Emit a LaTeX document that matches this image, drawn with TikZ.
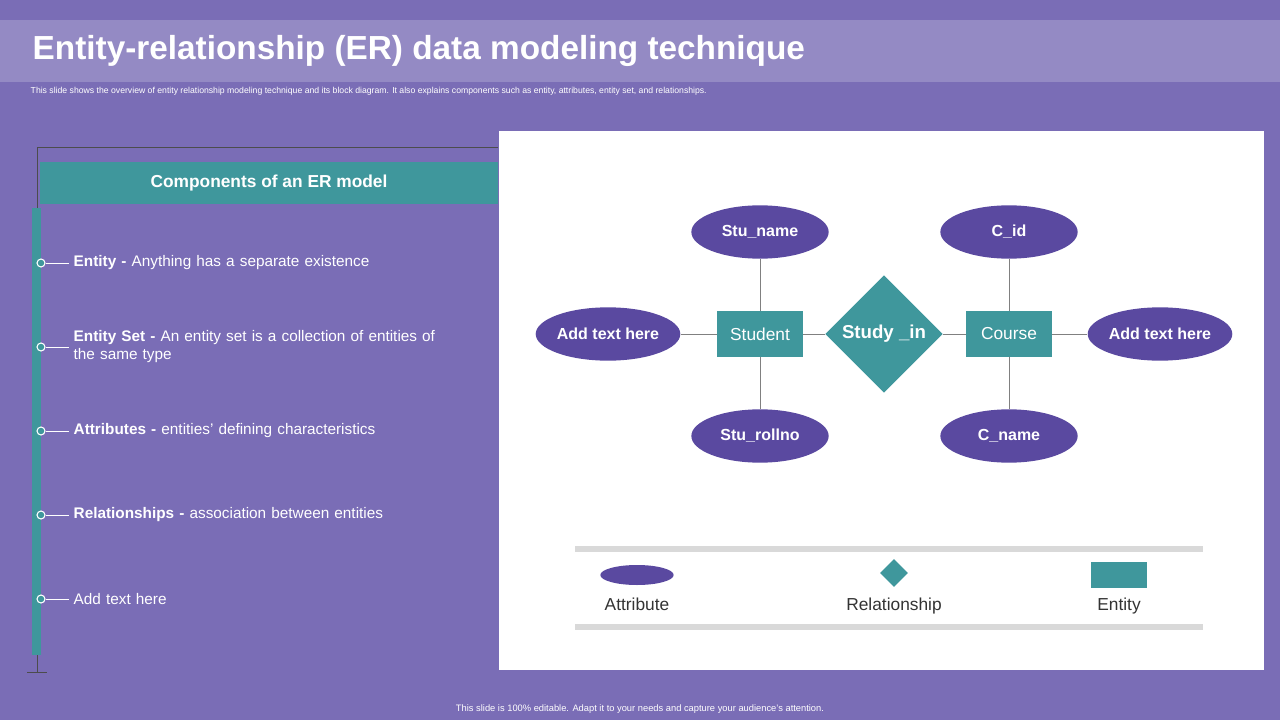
\documentclass[tikz,border=0pt]{standalone}
\usepackage{fontspec}
\setmainfont{Liberation Sans}
\usetikzlibrary{shapes.geometric}
\definecolor{bgpurple}{HTML}{7A6DB6}
\definecolor{teal}{HTML}{3F979C}
\definecolor{attr}{HTML}{5A49A0}
\definecolor{gline}{HTML}{D9D9D9}
\tikzset{
  attrib/.style={ellipse, fill=attr, minimum width=103pt, minimum height=40pt, inner sep=0pt, text=white, font=\bfseries\fontsize{12}{14}\selectfont},
  entity/.style={rectangle, fill=teal, minimum width=64pt, minimum height=34pt, inner sep=0pt, text=white, font=\fontsize{13}{15}\selectfont},
  relship/.style={diamond, fill=teal, minimum width=88pt, minimum height=88pt, inner sep=0pt, text=white, font=\bfseries\fontsize{14}{16}\selectfont},
  bullet/.style={circle, draw=white, fill=teal, line width=0.8pt, minimum size=6pt, inner sep=0pt},
  item/.style={anchor=west, text=white, font=\fontsize{11.5}{13.5}\selectfont, align=left, text width=290pt},
  legend/.style={anchor=base, text=black!80, font=\fontsize{13}{15}\selectfont}
}
\begin{document}
\begin{tikzpicture}[x=0.75pt, y=-0.75pt]
  \useasboundingbox (0,0) rectangle (1280,720);
  \fill[bgpurple] (0,0) rectangle (1280,720);
  \fill[white, opacity=0.2] (0,20) rectangle (1280,82);
  \node[anchor=west, text=white, font=\bfseries\fontsize{25}{29}\selectfont] (title) at (28,51) {Entity-relationship (ER) data modeling technique};
  \node[anchor=west, text=white, font=\fontsize{6.5}{8}\selectfont] (sub) at (26,91) {This slide shows the overview of entity relationship modeling technique and its block diagram. It also explains components such as  entity, attributes, entity set, and relationships.};

  % left panel
  \draw[black!70] (498,147) -- (37,147) -- (37,672);
  \draw[black!70] (27,672) -- (47,672);
  \fill[teal] (40,162) rectangle (498,204);
  \node[text=white, font=\bfseries\fontsize{13}{15}\selectfont] (comp) at (269,183) {Components of an ER model};
  \fill[teal] (32,208) rectangle (41,655);
  \foreach \y/\txt in {263/{\textbf{Entity -} Anything has a separate existence},
                       347/{\textbf{Entity Set -} An entity set is a collection of entities of the same type},
                       431/{\textbf{Attributes -} entities' defining characteristics},
                       515/{\textbf{Relationships -} association between entities},
                       599/{Add text here}} {
    \node[bullet] (b\y) at (41,\y) {};
    \node[item] (t\y) at (69,\y) {\txt};
    \draw[white] (b\y) -- (t\y.west);
  }

  % ER diagram
  \fill[white] (499,131) rectangle (1264,670);
  \node[relship] (study) at (884,334) {\raisebox{-2pt}{Study \_in}};
  \node[entity] (student) at (760,334) {Student};
  \node[entity] (course) at (1009,334) {Course};
  \node[attrib] (stuname) at (760,232) {Stu\_name};
  \node[attrib] (sturoll) at (760,436) {Stu\_rollno};
  \node[attrib] (addl) at (608,334) {Add text here};
  \node[attrib] (cid) at (1009,232) {C\_id};
  \node[attrib] (cname) at (1009,436) {C\_name};
  \node[attrib] (addr) at (1160,334) {Add text here};
  \draw[black!50] (stuname) -- (student) -- (sturoll);
  \draw[black!50] (addl) -- (student) -- (study) -- (course) -- (addr);
  \draw[black!50] (cid) -- (course) -- (cname);

  % legend
  \draw[gline, line width=4pt] (575,549) -- (1203,549);
  \draw[gline, line width=4pt] (575,627) -- (1203,627);
  \node[ellipse, fill=attr, minimum width=55pt, minimum height=15pt, inner sep=0pt] (lattr) at (637,575) {};
  \node[diamond, fill=teal, minimum size=21pt, inner sep=0pt] (lrel) at (894,573) {};
  \node[rectangle, fill=teal, minimum width=42pt, minimum height=20pt, inner sep=0pt] (lent) at (1119,575) {};
  \node[legend] (tattr) at (637,610) {Attribute};
  \node[legend] (trel) at (894,610) {Relationship};
  \node[legend] (tent) at (1119,610) {Entity};

  \node[text=white, font=\fontsize{7}{8}\selectfont] (foot) at (640,709) {This slide is 100\% editable.  Adapt it to your needs and capture your audience's attention.};
\end{tikzpicture}
\end{document}
